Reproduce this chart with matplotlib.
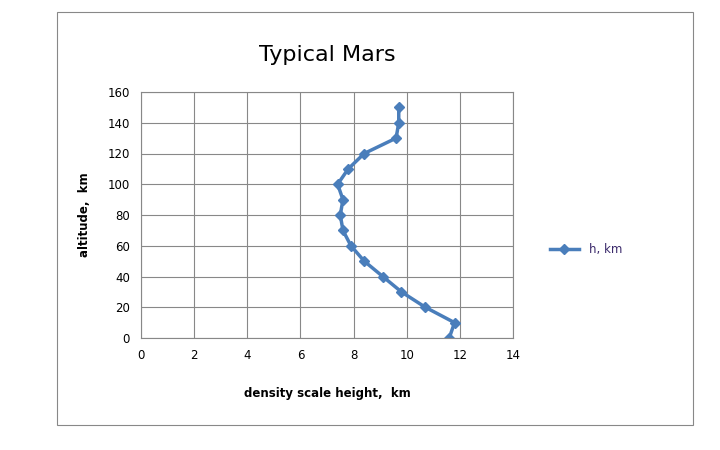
import matplotlib
matplotlib.use("Agg")
import matplotlib.pyplot as plt
from matplotlib.patches import Rectangle

scale_height_km = [11.6, 11.8, 10.7, 9.8, 9.1, 8.4, 7.9, 7.6, 7.5, 7.6, 7.4, 7.8, 8.4, 9.6, 9.7, 9.7]
altitude_km = [0, 10, 20, 30, 40, 50, 60, 70, 80, 90, 100, 110, 120, 130, 140, 150]
xticks = [0, 2, 4, 6, 8, 10, 12, 14]
yticks = [0, 20, 40, 60, 80, 100, 120, 140, 160]

fig = plt.figure(figsize=(7.2, 4.5), dpi=100)
fig.patches.append(Rectangle((57/720, 1-425/450), (693-57)/720, (425-12)/450,
                             transform=fig.transFigure, fill=False, edgecolor="#888888", lw=0.8))
ax = fig.add_axes([141/720, 1-338/450, 372/720, 246/450])
ax.plot(scale_height_km, altitude_km, color="#4a7ebb", lw=2.5, marker="D", ms=5,
        label="h, km")
ax.set_xlim(0, 14)
ax.set_ylim(0, 160)
ax.set_xticks(xticks)
ax.set_yticks(yticks)
ax.grid(True, color="#888888", lw=0.8)
for s in ax.spines.values():
    s.set_color("#888888")
ax.tick_params(length=0, labelsize=8.5, pad=8)
ax.set_xlabel("density scale height,  km", fontsize=8.5, fontweight="bold", labelpad=18)
ax.set_ylabel("altitude,  km", fontsize=8.5, fontweight="bold", labelpad=12)
ax.set_title("Typical Mars", fontsize=16, pad=22)
leg = ax.legend(loc="center left", bbox_to_anchor=(1.07, 0.36), frameon=False, fontsize=8.5,
                handlelength=2.5)
for t in leg.get_texts():
    t.set_color("#3b2a6b")
fig.savefig("out.png", dpi=100)
